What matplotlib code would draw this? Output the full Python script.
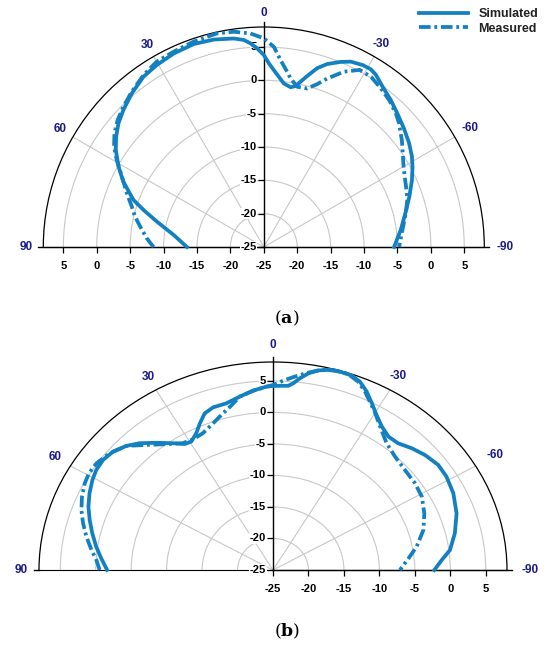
"""
Two half-plane radiation patterns (simulated vs measured), panels (a) and (b).
"""
import matplotlib.pyplot as plt
import numpy as np
from matplotlib.lines import Line2D

plt.rcParams['font.family'] = ['Liberation Sans', 'DejaVu Sans']
plt.rcParams['mathtext.fontset'] = 'custom'
plt.rcParams['mathtext.rm'] = 'DejaVu Serif'
plt.rcParams['mathtext.bf'] = 'DejaVu Serif:bold'

BLUE = '#1380c2'
NAVY = '#1a1a8a'
GRID = '#c8c8c8'
DASHDOT = (0, (3.1, 1.0, 0.75, 1.0))

R_MIN, R_MAX = -25, 8
R_TICKS = [-25, -20, -15, -10, -5, 0, 5]
ANGLE_TICKS = [90, 60, 30, 0, -30, -60, -90]

# panel (a): angle in degrees (positive = left), gain in dB
SIM_A_DEG = [90, 82.4, 76.6, 72.9, 70.1, 65, 61, 56.7, 53.2, 49.5, 45.6, 40.6, 35.2,
             30.4, 24.9, 19.0, 13.5, 8.2, 5.5, 3.7, 1.9, 0, -1.6, -3.2, -5.0, -7.0,
             -9.5, -11.1, -12.5, -14.2, -16.6, -19.1, -22.5, -25.1, -28.5, -31, -33,
             -36.5, -40.8, -44.9, -49.7, -54.4, -58.5, -61.6, -65.6, -70.9, -76,
             -82.9, -90]
SIM_A_DB = [-13.5, -11.4, -8.55, -6.2, -4.25, -1.8, -0.15, 1.5, 2.6, 3.6, 4.4, 5.35, 6.25,
            6.65, 7.0, 7.2, 7.0, 6.6, 6.2, 5.6, 4.8, 3.8, 2.55, 1.6, 0.65, -0.3,
            -0.7, -0.4, 0.4, 1.45, 3.0, 4.05, 5.05, 5.7, 6.05, 6.1, 5.8,
            4.9, 4.1, 3.3, 2.5, 1.75, 1.0, 0.3, -0.65, -1.95, -3.1,
            -4.35, -5.5]
MEAS_A_DEG = [90, 85.8, 80.6, 76.7, 73, 68.6, 63.6, 59.3, 56.1, 52.7, 49, 44.9, 40.3,
              34.9, 29.9, 24.7, 18.8, 12.3, 7.9, 3.6, 0, -2.9, -5.1, -7.6, -9.0,
              -11.8, -15.3, -18.1, -20.6, -24.5, -28.4, -32.2, -36.3, -40.4, -44.6,
              -47.5, -52.2, -55, -60, -64, -68.2, -71.8, -76.6, -83, -90]
MEAS_A_DB = [-8.5, -7.45, -6.25, -5.2, -4.35, -3.0, -1.3, 0.6, 2.0, 3.1, 4.0, 4.75, 5.55,
             6.45, 7.1, 7.25, 7.55, 7.8, 7.6, 7.1, 6.3, 5.05, 3.15, 1.5, 0.6,
             -0.45, -0.35, 0.7, 2.0, 3.9, 5.2, 5.15, 4.55, 3.95, 3.15,
             2.45, 1.15, 0.35, -0.85, -1.5, -2.0, -2.4, -3.15, -4.1, -4.75]

# panel (b)
SIM_B_DEG = [90, 85.6, 81.6, 77.1, 72.9, 68.9, 64.8, 60.7, 57.5, 53.9, 50.2, 46.4,
             43.1, 39.2, 35.0, 31.9, 29.5, 26.5, 23.9, 21.2, 18.1, 14.0, 9.7, 5.7,
             1.85, 0, -2.4, -4.2, -5.5, -7.1, -9.1, -11.4, -13.8, -16.6, -19.7,
             -22.3, -25.0, -27.8, -30.7, -34.0, -37.6, -41.3, -45.4, -49.6, -54.4,
             -58.8, -64.4, -70.9, -77.2, -82.8, -86.2, -90]
SIM_B_DB = [-1.6, -0.7, 0.2, 1.15, 2.05, 2.9, 3.6, 4.2, 4.55, 4.65, 4.35, 3.55,
            2.55, 1.05, -0.45, -1.45, -1.6, -0.75, 0.45, 1.65, 2.15, 2.25, 2.9, 3.6,
            4.1, 4.2, 4.25, 4.3, 4.75, 5.65, 6.6, 7.3, 7.7, 7.85, 7.8,
            7.3, 6.25, 4.9, 3.6, 2.45, 1.7, 1.75, 2.5, 3.15, 3.65,
            3.6, 3.2, 2.4, 1.3, 0.15, -1.15, -2.25]
MEAS_B_DEG = [90, 86.4, 82.9, 78.6, 74.5, 70.6, 66.6, 62.6, 59.4, 55.8, 51.2, 46.4,
              42.0, 37.0, 32.3, 28.5, 24.5, 20.0, 15.8, 13.3, 9.7, 5.7, 1.85, 0,
              -3.2, -5.8, -9.0, -12.2, -15.3, -18.8, -21.9, -24.6, -27.1, -30.1,
              -33.6, -38.6, -43.7, -49.6, -55.5, -61.0, -67.2, -73.3, -79.6, -84.5,
              -90]
MEAS_B_DB = [-0.55, -0.05, 0.8, 1.85, 2.8, 3.65, 4.35, 4.9, 5.15, 5.1, 4.55, 3.55,
             1.7, 0.0, -1.2, -1.4, -1.15, -0.25, 0.85, 1.55, 2.9, 3.55, 4.1, 4.35,
             5.2, 5.85, 6.7, 7.5, 7.85, 7.85, 7.2, 6.15, 5.0, 3.75,
             2.3, 0.7, -0.1, -0.55, -0.7, -1.0, -1.85, -2.85, -4.4, -5.8,
             -7.1]


def draw_pattern(ax, sim, meas, left_labels, label_pads):
    ax.set_theta_zero_location('N')
    ax.set_theta_direction(1)
    ax.set_thetamin(-90)
    ax.set_thetamax(90)
    ax.set_ylim(R_MIN, R_MAX)
    ax.set_aspect('auto')

    ax.set_rgrids(R_TICKS[1:], labels=[''] * (len(R_TICKS) - 1))
    ax.set_thetagrids([-60, -30, 30, 60], labels=[''] * 4)
    ax.grid(True, color=GRID, lw=0.8)
    ax.tick_params(axis='x', length=4, width=0.8, direction='out', color='k')
    ax.tick_params(axis='y', length=0)
    ax.spines['polar'].set_linewidth(0.9)
    ax.spines['start'].set_visible(False)
    ax.spines['end'].set_visible(False)

    ext = R_MAX + 0.75
    t90, t0 = np.deg2rad(90), 0.0
    ax.plot([t0, t0], [R_MIN, ext], color='k', lw=1.0, clip_on=False, zorder=3)
    ax.plot([-t90, -t90], [R_MIN, ext], color='k', lw=1.0, clip_on=False, zorder=3)
    if left_labels:
        ax.plot([t90, t90], [R_MIN, ext], color='k', lw=1.0, clip_on=False, zorder=3)
    else:
        ax.plot([t90, t90], [R_MIN, R_MAX], color=GRID, lw=0.8, zorder=3)
        ax.plot([t90, t90], [R_MAX, ext], color='k', lw=1.0, clip_on=False, zorder=3)

    # radial ticks + labels on the 0 degree axis
    ax.plot(np.zeros(len(R_TICKS)), R_TICKS, ls='none', marker=0, ms=4,
            mew=0.9, color='k', clip_on=False, zorder=3)
    for v in R_TICKS:
        ax.annotate(str(v), xy=(t0, v), xytext=(-7, 0), textcoords='offset pixels',
                    ha='right', va='center', fontsize=8, fontweight='bold',
                    annotation_clip=False, zorder=3.5,
                    bbox=dict(boxstyle='square,pad=0.05', fc='white', ec='none'))

    # radial ticks + labels along the bottom
    right = R_TICKS if not left_labels else R_TICKS[1:]
    ax.plot(np.full(len(right), -t90), right, ls='none', marker=3, ms=4,
            mew=0.9, color='k', clip_on=False, zorder=3)
    for v in right:
        ax.annotate(str(v), xy=(-t90, v), xytext=(0, -19), textcoords='offset pixels',
                    ha='center', va='center', fontsize=8, fontweight='bold',
                    annotation_clip=False)
    if left_labels:
        ax.plot(np.full(len(R_TICKS), t90), R_TICKS, ls='none', marker=3, ms=4,
                mew=0.9, color='k', clip_on=False, zorder=3)
        for v in R_TICKS:
            ax.annotate(str(v), xy=(t90, v), xytext=(0, -19), textcoords='offset pixels',
                        ha='center', va='center', fontsize=8, fontweight='bold',
                        annotation_clip=False)

    # angle labels outside the arc
    for ang, pad in zip(ANGLE_TICKS, label_pads):
        a = np.deg2rad(ang)
        ax.annotate(str(ang), xy=(a, R_MAX), xytext=(-pad * np.sin(a), pad * np.cos(a)),
                    textcoords='offset pixels', ha='center', va='center',
                    fontsize=8.5, fontweight='bold', color=NAVY, annotation_clip=False)

    ax.plot(np.deg2rad(sim[0]), sim[1], color=BLUE, lw=2.7, zorder=4, clip_on=False)
    ax.plot(np.deg2rad(meas[0]), meas[1], color=BLUE, lw=2.7, ls=DASHDOT, zorder=4,
            clip_on=False)


fig = plt.figure(figsize=(5.5, 6.49), dpi=100)
W, H = 550, 649

ax_a = fig.add_axes([43.3 / W, 292 / H, 441 / W, 440 / H], projection='polar')
draw_pattern(ax_a, (SIM_A_DEG, SIM_A_DB), (MEAS_A_DEG, MEAS_A_DB), True,
             [17, 15, 13, 14, 14, 18, 21])

ax_b = fig.add_axes([39 / W, -25 / H, 468 / W, 416 / H], projection='polar')
draw_pattern(ax_b, (SIM_B_DEG, SIM_B_DB), (MEAS_B_DEG, MEAS_B_DB), False,
             [18, 18, 15, 17, 16, 22, 23])

fig.text(287 / W, 1 - 318 / H, r'($\mathbf{a}$)', ha='center', va='center',
         fontsize=12.5, family='DejaVu Serif')
fig.text(287 / W, 1 - 631 / H, r'($\mathbf{b}$)', ha='center', va='center',
         fontsize=12.5, family='DejaVu Serif')

handles = [Line2D([], [], color=BLUE, lw=2.7),
           Line2D([], [], color=BLUE, lw=2.7, ls=DASHDOT)]
fig.legend(handles, ['Simulated', 'Measured'], loc='upper left',
           bbox_to_anchor=(419 / W, 1 - 8 / H), frameon=False,
           prop={'size': 9, 'weight': 'bold'}, labelcolor='#222222',
           handlelength=3.9, handletextpad=0.85, labelspacing=0.2,
           borderpad=0, borderaxespad=0)

fig.savefig('out.png', dpi=100)
